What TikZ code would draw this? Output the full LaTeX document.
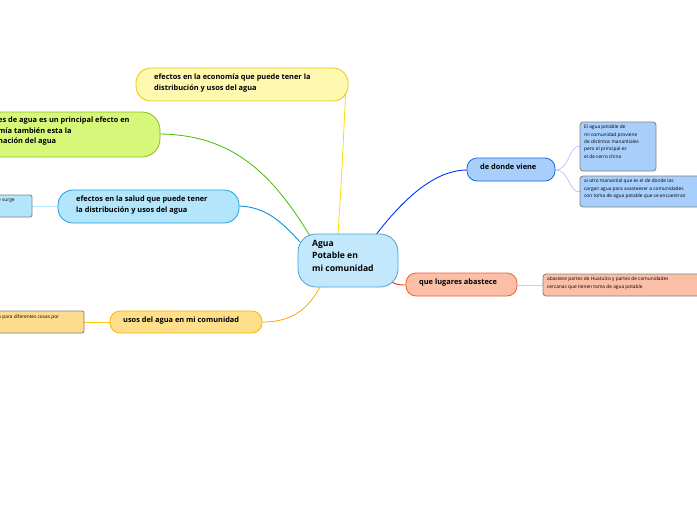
\documentclass[tikz,border=0pt]{standalone}
\usepackage{fontspec}
\setmainfont{Open Sans}
\begin{document}
\begin{tikzpicture}[x=1pt,y=-1pt,
 box/.style={rounded corners=#1,line width=0.8pt,inner sep=0pt},
 txt/.style={anchor=north west,align=left,inner sep=0pt,font=\fontsize{7.4}{10.5}\selectfont\bfseries},
 sm/.style={anchor=north west,align=left,inner sep=0pt,font=\fontsize{4.8}{7.3}\selectfont}]
\useasboundingbox (0,0) rectangle (697,520);
\clip (0,0) rectangle (697,520);
% connectors
\draw[color=yellow!80!orange,line width=0.8pt] (338,234) .. controls (342,170) .. (346,85);
\draw[color=green!50!olive,line width=0.8pt] (310,236) .. controls (270,170) and (230,135) .. (160,134);
\draw[color=cyan!80!blue,line width=0.9pt] (300,242) .. controls (280,220) and (265,207) .. (239,206);
\draw[color=orange!70!yellow,line width=0.8pt] (320,287) .. controls (305,315) and (285,322) .. (262,322);
\draw[color=blue!80!cyan,line width=0.9pt] (375,236) .. controls (410,190) and (440,170) .. (467,170);
\draw[color=red!70!orange,line width=0.9pt] (390,281) .. controls (396,285) and (400,285) .. (407,285);
\draw[color=cyan!30,line width=0.8pt] (32,206) -- (58,206);
\draw[color=orange!40!yellow,line width=0.6pt] (84,322) -- (110,322);
\draw[color=red!20!orange!40,line width=0.8pt] (517,285) -- (543,285);
\draw[color=blue!30,line width=0.6pt] (555,170) .. controls (570,170) and (568,146) .. (580,146);
\draw[color=blue!30,line width=0.6pt] (555,170) .. controls (570,170) and (568,192) .. (580,192);
% boxes
\draw[box=15pt,fill={rgb,255:red,255;green,248;blue,176},draw={rgb,255:red,235;green,200;blue,0}] (136,68) rectangle (348,101);
\node[txt] (teco) at (154,74) {efectos en la economía que puede tener la\\distribución y usos del agua};
\draw[box=18pt,fill={rgb,255:red,214;green,247;blue,122},draw={rgb,255:red,140;green,191;blue,26}] (-60,112) rectangle (160,157);
\node[txt] (tgr) at (-2,117) {es de agua es un principal efecto en\\mía también esta la\\nación del agua};
\draw[box=15pt,fill={rgb,255:red,179;green,229;blue,251},draw={rgb,255:red,26;green,160;blue,224}] (58,190) rectangle (239,223);
\node[txt] (tsa) at (76,196) {efectos en la salud que puede tener\\la distribución y usos del agua};
\draw[box=2pt,fill={rgb,255:red,179;green,229;blue,251},draw=gray] (-20,195) rectangle (32,217);
\node[sm] (tl1) at (-2,199) {e surge};
\draw[box=18pt,fill={rgb,255:red,196;green,232;blue,251},draw={rgb,255:red,74;green,159;blue,216}] (298,234) rectangle (398,287);
\node[txt,font=\fontsize{8.6}{12.5}\selectfont\bfseries] (tc) at (312,240) {Agua\\Potable en\\mi comunidad};
\draw[box=10pt,fill={rgb,255:red,255;green,223;blue,138},draw={rgb,255:red,245;green,184;blue,0}] (110,311) rectangle (262,333);
\node[txt] (tus) at (123,317) {usos del agua en mi comunidad};
\draw[box=2pt,fill={rgb,255:red,253;green,220;blue,143},draw=gray] (-20,311) rectangle (84,333);
\node[sm] (tl2) at (-2,315) {n para diferentes cosas por};
\draw[box=10pt,fill={rgb,255:red,168;green,207;blue,252},draw={rgb,255:red,26;green,106;blue,216}] (467,158) rectangle (555,181);
\node[txt] (tdv) at (480,164) {de donde viene};
\draw[box=3pt,fill={rgb,255:red,168;green,207;blue,252},draw=gray] (580,122) rectangle (656,171);
\node[sm] (tl3) at (584,125) {El agua potable de\\mi comunidad proviene\\de distintos manantiales\\pero el principal es\\el de cerro chino};
\draw[box=3pt,fill={rgb,255:red,168;green,207;blue,252},draw=gray] (580,176) rectangle (720,207);
\node[sm] (tl4) at (584,179) {ai otro manantial que es el de donde las\\cargan agua para avasteeser a comunidades\\con toma de agua potable que se encuentran};
\draw[box=10pt,fill={rgb,255:red,251;green,191;blue,168},draw={rgb,255:red,240;green,96;blue,48}] (406,273) rectangle (517,296);
\node[txt] (tql) at (419,279) {que lugares abastece};
\draw[box=3pt,fill={rgb,255:red,251;green,191;blue,168},draw=gray] (543,274) rectangle (720,296);
\node[sm] (tl5) at (547,277) {abastece partes de Huatulco y partes de comunidades\\cercanas que tienen toma de agua potable};
\end{tikzpicture}
\end{document}
